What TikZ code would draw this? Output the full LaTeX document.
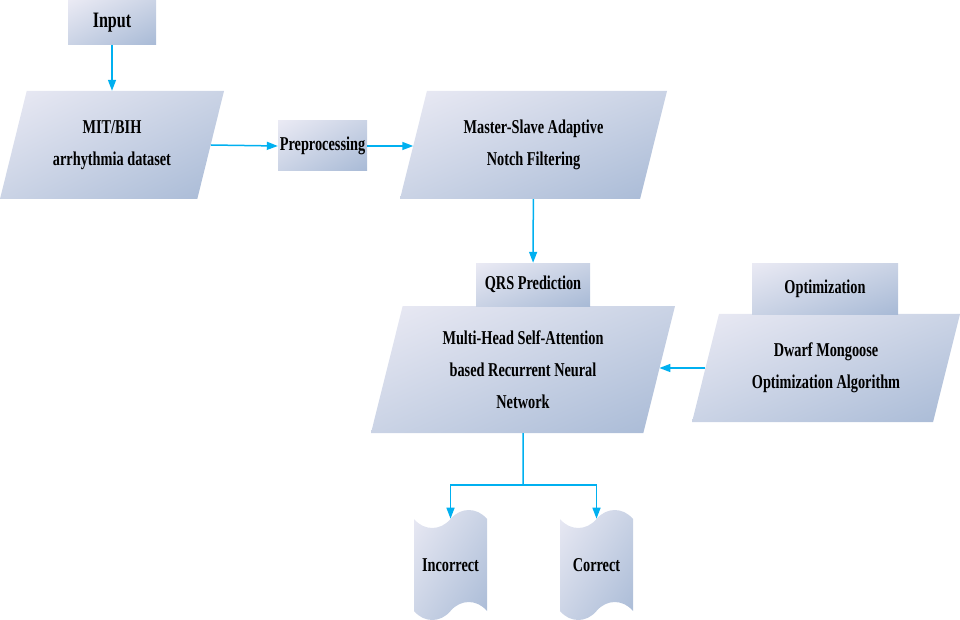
\documentclass[tikz,border=0pt]{standalone}
\usepackage{fontspec}
\setmainfont{Liberation Serif}[FakeStretch=0.73]
\usetikzlibrary{arrows.meta,shapes.geometric,shapes.symbols,shadings}
\definecolor{BoxLight}{RGB}{234,234,244}
\definecolor{BoxMid}{RGB}{202,211,229}
\definecolor{BoxDark}{RGB}{168,186,214}
\definecolor{FlowCyan}{RGB}{0,176,240}
\newcommand{\BoxFont}{\bfseries\fontsize{19.6}{32}\selectfont}
\tikzset{
  shadebox/.style={inner sep=0pt, align=center, font=\BoxFont,
    upper left=BoxLight, upper right=BoxMid, lower left=BoxMid, lower right=BoxDark},
  rectbox/.style={shadebox, rectangle},
  slantbox/.style={shadebox, trapezium, trapezium left angle=76,
    trapezium right angle=104, trapezium stretches body, inner ysep=#1},
  slantbox/.default=29pt,
  tapebox/.style={shadebox, tape, tape bend top=in and out,
    tape bend bottom=in and out, tape bend height=18pt,
    minimum width=73pt, minimum height=110pt},
  flow/.style={draw=FlowCyan, line width=1.5pt,
    -{Triangle[width=8pt,length=11pt]}},
  flowline/.style={draw=FlowCyan, line width=1.5pt}
}

\begin{document}
\begin{tikzpicture}[x=1pt,y=-1pt]
    \useasboundingbox (0,0) rectangle (960,620);
    % boxes
    \node[rectbox, minimum width=88pt, minimum height=44pt,
      font=\bfseries\fontsize{22}{26}\selectfont] (input) at (112,23) {Input};
    \node[slantbox, minimum width=224pt, minimum height=108pt] (mit) at (112,145)
      {MIT/BIH\\arrhythmia dataset};
    \node[rectbox, minimum width=89pt, minimum height=50pt] (prep) at (322.5,146)
      {Preprocessing};
    \node[slantbox, minimum width=267pt, minimum height=108pt] (msanf) at (533.5,145)
      {Master-Slave Adaptive\\Notch Filtering};
    \node[slantbox=24.5pt, minimum width=304pt, minimum height=127pt] (mhsa) at (523,369.5)
      {Multi-Head Self-Attention\\based Recurrent Neural\\Network};
    \node[rectbox, minimum width=114pt, minimum height=43pt] (qrs) at (533,284.5)
      {QRS Prediction};
    \node[slantbox, minimum width=268pt, minimum height=108pt] (dmoa) at (826,368)
      {Dwarf Mongoose\\Optimization Algorithm};
    \node[rectbox, minimum width=146pt, minimum height=51pt] (opt) at (825,288.5)
      {Optimization};
    \node[tapebox] (incorrect) at (450.5,565) {Incorrect};
    \node[tapebox] (correct) at (596.5,565) {Correct};
    \coordinate (split) at (523,485);
    % arrows
    \draw[flow] (input) -- (mit);
    \draw[flow] (mit.east) -- (prep.west);
    \draw[flow] (prep.east) -- (prep.east -| msanf.west);
    \draw[flow] (msanf) -- (qrs);
    \draw[flow] (dmoa.west) -- (dmoa.west -| mhsa.east);
    \draw[flowline] (mhsa.south) -- (split);
    \draw[flow] (split) -| (incorrect.north);
    \draw[flow] (split) -| (correct.north);
\end{tikzpicture}
\end{document}
